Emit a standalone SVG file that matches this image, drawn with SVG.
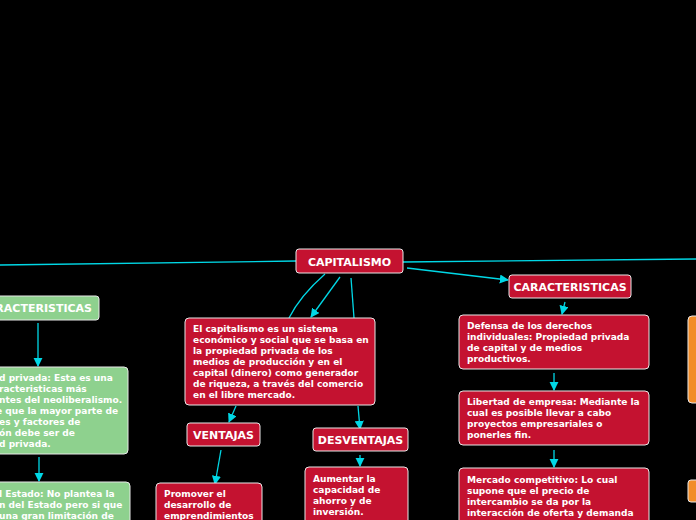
<svg xmlns="http://www.w3.org/2000/svg" width="696" height="520" viewBox="0 0 696 520">
<defs>
<style>
.r{fill:#c41230;stroke:#e8e8e8;stroke-width:1}
.g{fill:#8ed18e;stroke:#e8e8e8;stroke-width:1}
.o{fill:#f28c28;stroke:#e8e8e8;stroke-width:1}
text{font-family:"DejaVu Sans","Verdana",sans-serif;font-weight:bold;fill:#fff}
.t{font-size:9.05px}
.h{font-size:11px}
.c{stroke:#00d8e6;stroke-width:1.3;fill:none}
.a{marker-end:url(#m)}
</style>
<marker id="m" viewBox="0 0 10 10" refX="9" refY="5" markerWidth="7" markerHeight="7" orient="auto"><path d="M0,0L10,5L0,10z" fill="#00d8e6"/></marker>
</defs>
<rect width="696" height="520" fill="#000"/>
<g id="connectors">
<path class="c" d="M0,265L296,261"/>
<path class="c" d="M403,262L696,259"/>
<path class="c a" d="M407,268L508,280"/>
<path class="c" d="M325,274Q300,296 289,318"/>
<path class="c a" d="M340,277L311,317"/>
<path class="c" d="M351,278L354,318"/>
<path class="c a" d="M358,406L360,429"/>
<path class="c a" d="M236,406L229,422"/>
<path class="c a" d="M221,450L215,484"/>
<path class="c a" d="M360,455L360,466"/>
<path class="c a" d="M565,302L562,314"/>
<path class="c a" d="M554,373L554,390"/>
<path class="c a" d="M554,450L554,467"/>
<path class="c a" d="M38,323L38,366"/>
<path class="c a" d="M39,457L39,481"/>
</g>
<g id="capitalismo"><rect class="r" x="296" y="249" width="107" height="24" rx="3"/><text class="h" x="349.5" y="265.5" text-anchor="middle" font-size="12">CAPITALISMO</text></g>
<g id="carac-der"><rect class="r" x="509" y="275" width="122" height="23" rx="3"/><text class="h" x="570" y="290.5" text-anchor="middle">CARACTERISTICAS</text></g>
<g id="carac-izq"><rect class="g" x="-40" y="296" width="139" height="24" rx="3"/><text class="h" x="92" y="312" text-anchor="end">CARACTERISTICAS</text></g>
<g id="verde1"><rect class="g" x="-60" y="367" width="188" height="87" rx="4"/>
<text class="t" x="-1" y="381">d privada: Esta es una</text>
<text class="t" x="-1" y="392">racteristicas más</text>
<text class="t" x="-1" y="403">ntes del neoliberalismo.</text>
<text class="t" x="-4" y="414">e que la mayor parte de</text>
<text class="t" x="-1" y="425">es y factores de</text>
<text class="t" x="-1" y="436">ón debe ser de</text>
<text class="t" x="-1" y="447">d privada.</text></g>
<g id="verde2"><rect class="g" x="-60" y="482" width="190" height="50" rx="4"/>
<text class="t" x="-1" y="497">l Estado: No plantea la</text>
<text class="t" x="-1" y="508">n del Estado pero si que</text>
<text class="t" x="-1" y="519">una gran limitación de</text></g>
<g id="definicion"><rect class="r" x="185" y="318" width="190" height="87" rx="4"/>
<text class="t" x="193" y="332">El capitalismo es un sistema</text>
<text class="t" x="193" y="343">económico y social que se basa en</text>
<text class="t" x="193" y="354">la propiedad privada de los</text>
<text class="t" x="193" y="365">medios de producción y en el</text>
<text class="t" x="193" y="376">capital (dinero) como generador</text>
<text class="t" x="193" y="387">de riqueza, a través del comercio</text>
<text class="t" x="193" y="398">en el libre mercado.</text></g>
<g id="ventajas"><rect class="r" x="187" y="423" width="73" height="23" rx="3"/><text class="h" x="223.5" y="438.5" text-anchor="middle">VENTAJAS</text></g>
<g id="desventajas"><rect class="r" x="313" y="428" width="95" height="23" rx="3"/><text class="h" x="360.5" y="443.5" text-anchor="middle">DESVENTAJAS</text></g>
<g id="promover"><rect class="r" x="156" y="483" width="106" height="50" rx="4"/>
<text class="t" x="164" y="497">Promover el</text>
<text class="t" x="164" y="508">desarrollo de</text>
<text class="t" x="164" y="519">emprendimientos</text></g>
<g id="aumentar"><rect class="r" x="305" y="467" width="103" height="60" rx="4"/>
<text class="t" x="313" y="482">Aumentar la</text>
<text class="t" x="313" y="493">capacidad de</text>
<text class="t" x="313" y="504">ahorro y de</text>
<text class="t" x="313" y="515">inversión.</text></g>
<g id="defensa"><rect class="r" x="459" y="315" width="190" height="54" rx="4"/>
<text class="t" x="467" y="329">Defensa de los derechos</text>
<text class="t" x="467" y="340">individuales: Propiedad privada</text>
<text class="t" x="467" y="351">de capital y de medios</text>
<text class="t" x="467" y="362">productivos.</text></g>
<g id="libertad"><rect class="r" x="459" y="391" width="190" height="54" rx="4"/>
<text class="t" x="467" y="405">Libertad de empresa: Mediante la</text>
<text class="t" x="467" y="416">cual es posible llevar a cabo</text>
<text class="t" x="467" y="427">proyectos empresariales o</text>
<text class="t" x="467" y="438">ponerles fin.</text></g>
<g id="mercado"><rect class="r" x="459" y="468" width="190" height="60" rx="4"/>
<text class="t" x="467" y="483">Mercado competitivo: Lo cual</text>
<text class="t" x="467" y="494">supone que el precio de</text>
<text class="t" x="467" y="505">intercambio se da por la</text>
<text class="t" x="467" y="516">interacción de oferta y demanda</text></g>
<g id="naranja1"><rect class="o" x="688" y="316" width="30" height="87" rx="4"/></g>
<g id="naranja2"><rect class="o" x="688" y="480" width="30" height="22" rx="3"/></g>
</svg>
